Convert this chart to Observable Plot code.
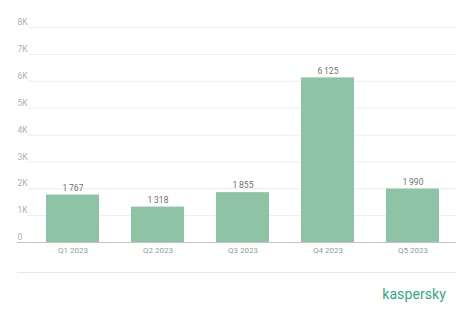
<!DOCTYPE html>
<html>
<head>
<meta charset="utf-8">
<script src="https://cdn.jsdelivr.net/npm/d3@7"></script>
<script src="https://cdn.jsdelivr.net/npm/@observablehq/plot@0.6"></script>
<style>
  html, body { margin: 0; padding: 0; background: #fff; }
  #wrap { position: relative; width: 474px; height: 321px; font-family: Roboto, "Open Sans", sans-serif; }
  #rule { position: absolute; left: 17px; top: 272px; width: 439px; border-top: 1px solid #e8e8e8; }
  #logo { position: absolute; right: 28px; top: 286px; font-size: 14px; color: #2fa882; font-weight: 400; letter-spacing: 0.1px; }
</style>
</head>
<body>
<div id="wrap">
  <div id="chart"></div>
  <div id="rule"></div>
  <div id="logo">kaspersky</div>
</div>
<script>
const categories = ["Q1 2023", "Q2 2023", "Q3 2023", "Q4 2023", "Q5 2023"];
const values = [1767, 1318, 1855, 6125, 1990];
const yTicks = [0, 1000, 2000, 3000, 4000, 5000, 6000, 7000, 8000];

const data = categories.map((c, i) => ({category: c, value: values[i]}));
const fmt = d3.formatLocale({thousands: "\u2009", grouping: [3], decimal: ".", currency: ["", ""]}).format(",");

const chart = Plot.plot({
  width: 474,
  height: 262,
  marginTop: 27,
  marginBottom: 20,
  marginLeft: 28,
  marginRight: 18,
  style: {fontFamily: "Roboto, sans-serif", fontSize: "8px", background: "#fff"},
  x: {domain: categories, paddingInner: 0.38, paddingOuter: 0.19, label: null},
  y: {domain: [0, 8000], ticks: yTicks, label: null},
  marks: [
    Plot.gridY(yTicks.filter(d => d > 0), {stroke: "#ececec", strokeOpacity: 1}),
    Plot.axisY(yTicks, {anchor: "left", tickSize: 0, tickPadding: 0, textAnchor: "start", dx: -11, dy: -5,
      tickFormat: d => d === 0 ? "0" : d / 1000 + "K", fill: "#b0b0b0", fontSize: 8.5}),
    Plot.barY(data, {x: "category", y: "value", fill: "#8ec4a5"}),
    Plot.ruleY([0], {stroke: "#c4c4c4", strokeWidth: 1.2, insetLeft: -11}),
    Plot.axisX({tickSize: 0, tickPadding: 5, fill: "#999", fontSize: 8}),
    Plot.text(data, {x: "category", y: "value", text: d => fmt(d.value), dy: -7, fill: "#707070", fontSize: 8.5})
  ]
});
document.getElementById("chart").appendChild(chart);
</script>
</body>
</html>
